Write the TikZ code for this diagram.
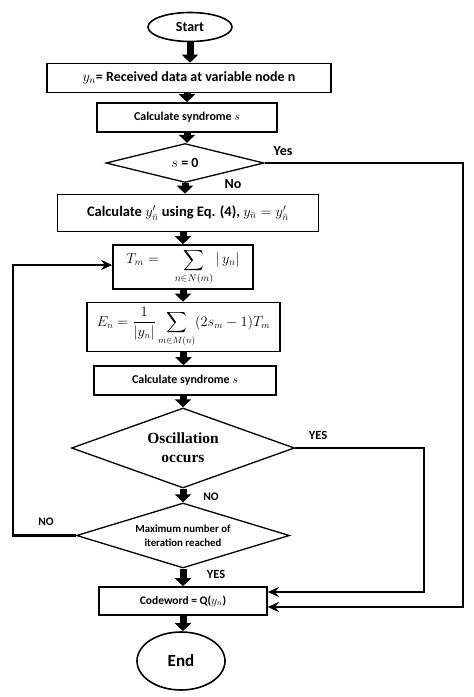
\documentclass[tikz,border=0pt]{standalone}
\usepackage{fontspec}
\setsansfont{Carlito}
\newfontfamily\oscfont{Liberation Serif}
\usepackage{amsmath}
\usetikzlibrary{arrows.meta, calc, shapes.geometric}
\definecolor{linecol}{RGB}{0, 0, 0}
\tikzset{
  blk/.style      = {draw=linecol, line width=1.6pt, align=center,
                     font=\sffamily\bfseries, inner sep=0pt},
  procbox/.style  = {blk, rectangle},
  termnode/.style = {blk, ellipse},
  decide/.style   = {blk, diamond, line width=1.3pt},
  lbl/.style      = {font=\sffamily\bfseries, inner sep=0pt},
  % fat block arrows between the steps
  flow/.style     = {-{Triangle[length=8pt, width=16pt]}, draw=linecol,
                     line width=7pt},
  % the thin feedback and exit lines
  loopline/.style = {-{Stealth[length=11pt, width=10pt]}, draw=linecol,
                     line width=2.8pt},
}
\begin{document}
\begin{tikzpicture}[x=1pt, y=-1pt]
  \useasboundingbox (0,0) rectangle (474,697);

  %% ---------------- main column ----------------
  \node[termnode, minimum width=84pt, minimum height=29pt, font=\sffamily\bfseries\fontsize{14}{16}\selectfont]
       (start) at (190,27) {Start};
  \node[procbox, minimum width=284pt, minimum height=29pt, font=\sffamily\bfseries\fontsize{14}{16}\selectfont]
       (recv) at (189,78) {$y_n$= Received data at variable node n};
  \node[procbox, minimum width=180pt, minimum height=29pt, font=\sffamily\bfseries\fontsize{12}{14}\selectfont]
       (synA) at (187,117.5) {Calculate syndrome $s$};
  \node[decide, aspect=4, minimum width=158pt, minimum height=39pt, font=\sffamily\bfseries\fontsize{14}{16}\selectfont]
       (szero) at (185,163) {$s$ = 0};
  \node[procbox, minimum width=261pt, minimum height=37pt, font=\sffamily\bfseries\fontsize{14.5}{17}\selectfont]
       (upd) at (188,213) {Calculate $y'_{\bar{n}}$ using Eq. (4), $y_{\bar{n}} = y'_{\bar{n}}$};
  \node[procbox, minimum width=140pt, minimum height=44pt, font=\fontsize{14}{16}\selectfont]
       (tm) at (183,267) {$T_m =\;\;\; \displaystyle\sum_{n\in N(m)} |\,y_n|$};
  \node[procbox, minimum width=193pt, minimum height=49pt, font=\fontsize{13.5}{16}\selectfont]
       (en) at (183.5,327) {$E_n = \dfrac{1}{|y_n|}\displaystyle\sum_{m\in M(n)} (2s_m-1)T_m$};
  \node[procbox, minimum width=182pt, minimum height=29pt, font=\sffamily\bfseries\fontsize{12}{14}\selectfont]
       (synB) at (185,380.5) {Calculate syndrome $s$};
  \node[decide, aspect=2.8, minimum width=223pt, minimum height=80pt, font=\oscfont\bfseries\fontsize{15.5}{19}\selectfont]
       (osc) at (183,448) {Oscillation\\occurs};
  \node[decide, aspect=3.3, minimum width=213pt, minimum height=65pt, font=\sffamily\bfseries\fontsize{10.8}{14}\selectfont]
       (maxit) at (183,535.5) {Maximum number of\\iteration reached};
  \node[procbox, minimum width=168pt, minimum height=28pt, font=\sffamily\bfseries\fontsize{11.5}{13}\selectfont]
       (code) at (183,601) {Codeword = Q($y_n$)};
  \node[termnode, minimum width=88pt, minimum height=58pt, font=\sffamily\bfseries\fontsize{17}{19}\selectfont]
       (stop) at (181,661) {End};

  %% ---------------- rails for the side lines ----------------
  \coordinate (railR) at (463,0);
  \coordinate (railM) at (424,0);
  \coordinate (railL) at (13,0);

  %% ---------------- block arrows ----------------
  \draw[flow] (start.south) -- (start.south |- recv.north);
  \draw[flow] (recv.south -| synA) -- (synA.north);
  \draw[flow] (synA.south) -- (synA.south |- szero.north);
  \draw[flow] (szero.south) -- (szero.south |- upd.north);
  \draw[flow] (upd.south -| tm) -- (tm.north);
  \draw[flow] (tm.south) -- (en.north -| tm.south);
  \draw[flow] (en.south) -- (en.south |- synB.north);
  \draw[flow] (synB.south -| osc) -- (osc.north);
  \draw[flow] (osc.south) -- (maxit.north);
  \draw[flow] (maxit.south) -- (maxit.south |- code.north);
  \draw[flow] (code.south) -- (code.south |- stop.north);

  %% ---------------- side lines ----------------
  \draw[loopline] (szero.east) -- (szero.east -| railR) |- ([yshift=-6pt]code.east);
  \draw[loopline] (osc.east) -- (osc.east -| railM) |- ([yshift=9pt]code.east);
  \draw[loopline] (maxit.west) -- (maxit.west -| railL) |- ([yshift=2pt]tm.west);

  %% ---------------- branch labels ----------------
  \node[lbl, font=\sffamily\bfseries\fontsize{14}{16}\selectfont] (lyesA) at (283,151) {Yes};
  \node[lbl, font=\sffamily\bfseries\fontsize{14}{16}\selectfont] (lnoA)  at (233,184) {No};
  \node[lbl, font=\sffamily\bfseries\fontsize{12.5}{14}\selectfont] (lyesB) at (318,435) {YES};
  \node[lbl, font=\sffamily\bfseries\fontsize{11.5}{13}\selectfont] (lnoB)  at (211,497) {NO};
  \node[lbl, font=\sffamily\bfseries\fontsize{11.5}{13}\selectfont] (lnoC)  at (46,522)  {NO};
  \node[lbl, font=\sffamily\bfseries\fontsize{12.5}{14}\selectfont] (lyesC) at (216,574) {YES};

\end{tikzpicture}
\end{document}
